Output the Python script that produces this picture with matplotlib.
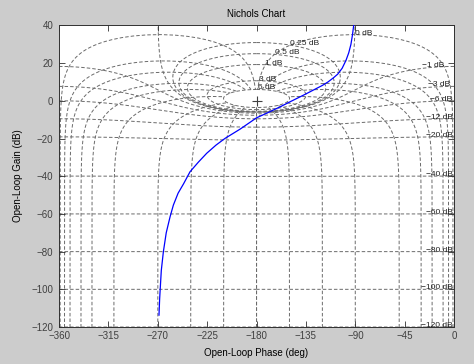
import numpy as np
import matplotlib
matplotlib.use("Agg")
import matplotlib.pyplot as plt

# ---- data ----
gain_lines_db = [6, 3, 1, 0.5, 0.25, 0, -1, -3, -6, -12, -20, -40, -60, -80, -100, -120]
phase_lines_deg = [1, 5, 10, 20, 30, 50, 90, 120, 150, 180]

curve_phase = [-268.9, -268.3, -267.8, -266.8, -264.9, -262.3, -258.8, -255.8, -251.5,
               -246.5, -240.6, -233.0, -225.4, -217.0, -208.7, -195.0, -180.0, -168.0,
               -158.3, -149.5, -137.0, -128.0, -120.0, -115.0, -110.0, -106.0, -102.0,
               -98.5, -96.0, -94.0, -92.6, -91.5]
curve_gain = [-113.7, -105.0, -100.0, -90.0, -80.0, -70.0, -61.5, -55.3, -49.0,
              -44.0, -37.6, -32.5, -27.8, -23.5, -19.9, -15.0, -9.0, -5.8,
              -3.1, -0.5, 3.1, 5.8, 8.2, 10.0, 12.2, 14.2, 17.3,
              21.5, 25.5, 30.0, 35.0, 40.0]

x_ticks = [-360, -315, -270, -225, -180, -135, -90, -45, 0]
y_ticks = [-120, -100, -80, -60, -40, -20, 0, 20, 40]

title = "Nichols Chart"
xlabel = "Open-Loop Phase (deg)"
ylabel = "Open-Loop Gain (dB)"

# ---- style ----
plt.rcParams["font.family"] = ["Liberation Sans", "DejaVu Sans"]
plt.rcParams["lines.scale_dashes"] = False

BG = "#cccccc"
GRID = "#6a6a6a"
TXT = "#404040"

fig = plt.figure(figsize=(4.74, 3.64), dpi=100, facecolor=BG)
ax = fig.add_axes([0.1245, 0.1016, 0.8335, 0.8284])
ax.set_facecolor("white")


def wrap_phase(L):
    ph = np.degrees(np.angle(L))
    return np.where(ph > 0, ph - 360.0, ph)


def draw_path(ph, g):
    ph = np.asarray(ph, float)
    g = np.asarray(g, float)
    jumps = np.where(np.abs(np.diff(ph)) > 170)[0]
    ph = np.insert(ph, jumps + 1, np.nan)
    g = np.insert(g, jumps + 1, np.nan)
    ax.plot(ph, g, color=GRID, lw=0.7, linestyle=(0, (2.5, 1.5)), zorder=1)


# closed-loop gain contours
pv = np.logspace(-3, np.log10(180.0), 2500)
for gdb in gain_lines_db:
    M = 10 ** (gdb / 20.0)
    for sgn in (-1, 1):
        p = np.radians(sgn * pv)
        T = M * np.exp(1j * p)
        L = T / (1 - T)
        draw_path(wrap_phase(L), 20 * np.log10(np.abs(L)))
    # label at closed-loop phase -1 deg
    T = M * np.exp(-1j * np.radians(1.0))
    L = T / (1 - T)
    lx = float(wrap_phase(L))
    ly = float(20 * np.log10(np.abs(L)))
    txt = ("%g dB" % gdb).replace("-", "\u2212")
    ax.text(lx, ly, txt, fontsize=6, color="#202020",
            ha="left" if gdb >= 0 else "right", va="baseline", zorder=4)

# closed-loop phase contours (from far below up to the highest gain contour)
Mv = 10 ** np.linspace(-135 / 20.0, max(gain_lines_db) / 20.0, 4000)
for pdeg in phase_lines_deg:
    for sgn in (-1, 1):
        T = Mv * np.exp(1j * np.radians(sgn * pdeg))
        L = T / (1 - T)
        draw_path(wrap_phase(L), 20 * np.log10(np.abs(L)))

# critical point
ax.plot([-180], [0], marker="+", markersize=7, color="#404040", mew=0.8, zorder=2)

# open-loop response
ax.plot(curve_phase, curve_gain, color="#0000ff", lw=0.9, zorder=3)

ax.set_xlim(-360, 0)
ax.set_ylim(-120, 40)
ax.set_xticks(x_ticks)
ax.set_yticks(y_ticks)
ax.tick_params(direction="in", top=True, right=True, length=4, width=0.6,
               labelsize=7, labelcolor=TXT, color="#303030")
ax.tick_params(axis="y", pad=4)
ax.tick_params(axis="x", pad=3)
for s in ax.spines.values():
    s.set_color("#303030")
    s.set_linewidth(0.7)

fig.text(256 / 474, 1 - 14 / 364, title, ha="center", va="center", fontsize=7, color="black")
fig.text(256 / 474, 1 - 353 / 364, xlabel, ha="center", va="center", fontsize=7, color="black")
fig.text(18 / 474, 1 - 176 / 364, ylabel, ha="center", va="center", rotation=90,
         fontsize=7, color="black")

fig.savefig("out.png", dpi=100, facecolor=BG)
